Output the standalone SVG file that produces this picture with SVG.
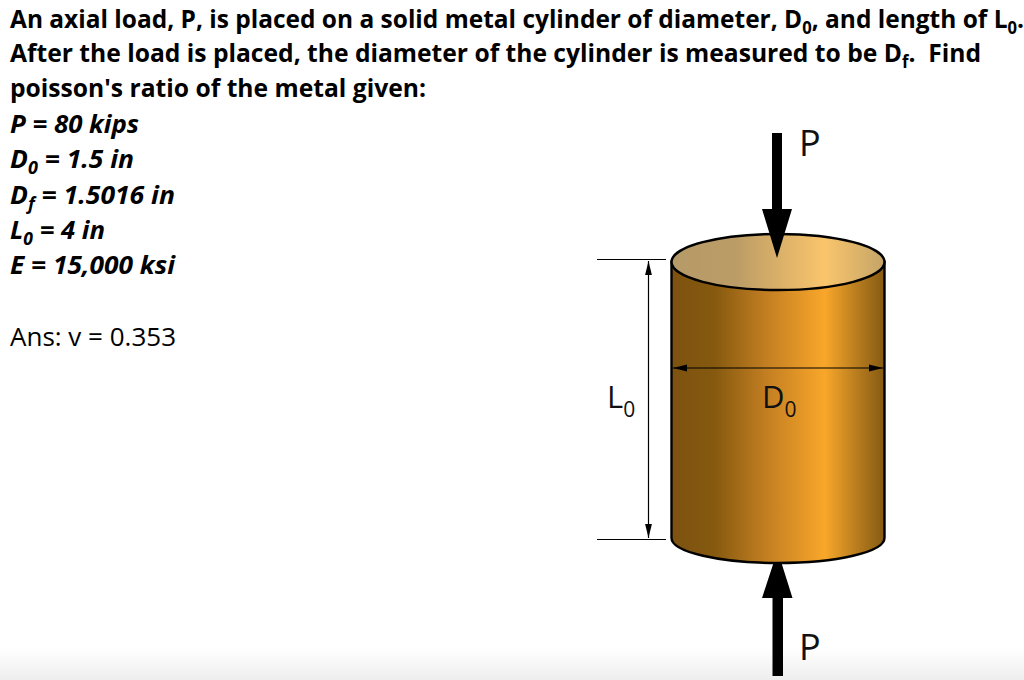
<svg xmlns="http://www.w3.org/2000/svg" width="1024" height="680" viewBox="0 0 1024 680">
<style>
text{font-family:"Open Sans","Noto Sans","Liberation Sans",sans-serif;fill:#000}
.b{font-weight:700;font-size:25px}
.g{font-weight:700;font-style:italic;font-size:25px}
.r{font-size:25px}
.l{font-size:36px;fill:#111}
.m{font-size:31px;fill:#111}
.ms{font-size:21px}
.s{font-size:17px}
.dim{stroke:#000;stroke-width:1.2;fill:none}
.edge{stroke:#000;stroke-width:2.4}
</style>
<defs>
<linearGradient id="body" x1="0" x2="1" y1="0" y2="0">
<stop offset="0" stop-color="#7d5210"/><stop offset=".2" stop-color="#85590f"/><stop offset=".45" stop-color="#c47f22"/><stop offset=".72" stop-color="#f9a72a"/><stop offset=".88" stop-color="#b47a1e"/><stop offset="1" stop-color="#855a12"/>
</linearGradient>
<linearGradient id="top" x1="0" x2="1" y1="0" y2="0">
<stop offset="0" stop-color="#b59a68"/><stop offset=".3" stop-color="#bb9c66"/><stop offset=".72" stop-color="#fac56c"/><stop offset="1" stop-color="#c4a468"/>
</linearGradient>
<linearGradient id="fade" x1="0" x2="0" y1="0" y2="1">
<stop offset="0" stop-color="#fff"/><stop offset="1" stop-color="#eeeeee"/>
</linearGradient>
<marker id="dimHead" markerWidth="14" markerHeight="8" refX="14" refY="4" orient="auto-start-reverse" markerUnits="userSpaceOnUse"><path d="M0 .6L14 4L0 7.400z" fill="#000"/></marker>
</defs>
<rect width="1024" height="680" fill="#fff"/>
<rect y="648" width="1024" height="32" fill="url(#fade)"/>
<g id="problem-text">
<text class="b" x="10" y="28" textLength="1014" lengthAdjust="spacingAndGlyphs">An axial load, P, is placed on a solid metal cylinder of diameter, D<tspan class="s" dy="6">0</tspan><tspan dy="-6">, and length of L</tspan><tspan class="s" dy="6">0</tspan><tspan dy="-6">.</tspan></text>
<text class="b" x="10" y="62" textLength="971" lengthAdjust="spacingAndGlyphs" xml:space="preserve">After the load is placed, the diameter of the cylinder is measured to be D<tspan class="s" dy="6">f</tspan><tspan dy="-6">.  Find</tspan></text>
<text class="b" x="10" y="97" textLength="416" lengthAdjust="spacingAndGlyphs">poisson's ratio of the metal given:</text>
</g>
<g id="given-values">
<text class="g" x="10" y="133" textLength="129" lengthAdjust="spacingAndGlyphs">P = 80 kips</text>
<text class="g" x="10" y="168" textLength="124" lengthAdjust="spacingAndGlyphs">D<tspan class="s" dy="6">0</tspan><tspan dy="-6"> = 1.5 in</tspan></text>
<text class="g" x="10" y="204" textLength="165" lengthAdjust="spacingAndGlyphs">D<tspan class="s" dy="6">f</tspan><tspan dy="-6"> = 1.5016 in</tspan></text>
<text class="g" x="10" y="239" textLength="95" lengthAdjust="spacingAndGlyphs">L<tspan class="s" dy="6">0</tspan><tspan dy="-6"> = 4 in</tspan></text>
<text class="g" x="10" y="274" textLength="165" lengthAdjust="spacingAndGlyphs">E = 15,000 ksi</text>
</g>
<g id="answer"><text class="r" x="10" y="346" textLength="166" lengthAdjust="spacingAndGlyphs">Ans: v = 0.353</text></g>
<g id="cylinder">
<path class="edge" d="M671.500 262V538C671.500 552 720 563 778 563S884.500 552 884.500 538V262z" fill="url(#body)"/>
<ellipse class="edge" cx="778" cy="262" rx="106.500" ry="28" fill="url(#top)"/>
</g>
<g id="connectors">
<path class="dim" d="M597 259.500H666M597 539.500H666"/>
<path class="dim" d="M648.500 261V538" marker-start="url(#dimHead)" marker-end="url(#dimHead)"/>
<path class="dim" d="M673 368H883" marker-start="url(#dimHead)" marker-end="url(#dimHead)"/>
<path d="M772 133H782V209H792L777 258L762 209H772z" fill="#000"/>
<path d="M772.500 676V598H762L773.500 563H781.500L792.500 598H783V676z" fill="#000"/>
</g>
<g id="label-P-top"><text class="l" x="799" y="156">P</text></g>
<g id="label-P-bottom"><text class="l" x="799" y="660">P</text></g>
<g id="label-L0"><text class="m" x="607" y="408">L<tspan class="ms" dy="9">0</tspan></text></g>
<g id="label-D0"><text class="m" x="762" y="408">D<tspan class="ms" dy="9">0</tspan></text></g>
</svg>
